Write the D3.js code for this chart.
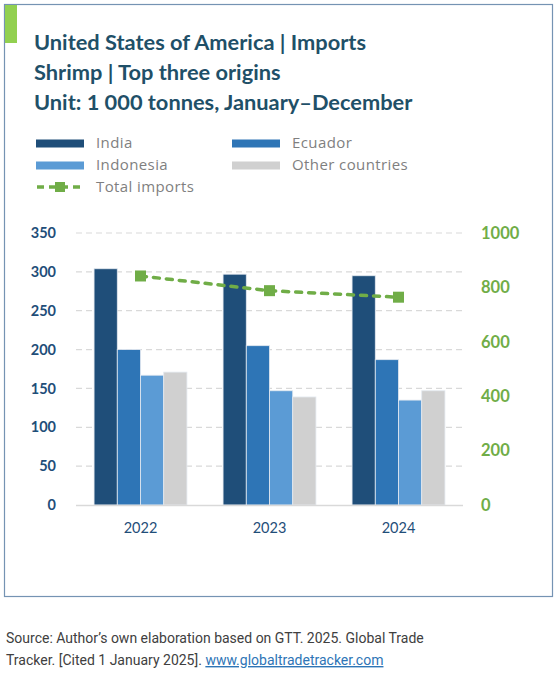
<!DOCTYPE html>
<html>
<head>
<meta charset="utf-8">
<script src="https://cdn.jsdelivr.net/npm/d3@7"></script>
<style>
  body { margin: 0; background: #fff; }
</style>
</head>
<body>
<svg id="chart" width="557" height="673" font-family="Lato, sans-serif"></svg>
<script>
// data
var years = ["2022", "2023", "2024"];
var seriesNames = ["India", "Ecuador", "Indonesia", "Other countries"];
var india = [304, 297, 295];
var ecuador = [200, 205, 187];
var indonesia = [167, 147, 135];
var others = [171, 139, 147];
var totalImports = [842, 788, 764];
var leftTicks = [0, 50, 100, 150, 200, 250, 300, 350];
var rightTicks = [0, 200, 400, 600, 800, 1000];

var colors = ["#1f4e79", "#2e75b6", "#5b9bd5", "#d0d0d0"];
var green = "#70ad47";
var titleColor = "#1f5068";

var svg = d3.select("#chart");

// frame + accent
svg.append("rect").attr("x", 4.5).attr("y", 4.5).attr("width", 548).attr("height", 592)
  .attr("fill", "none").attr("stroke", "#7593b3").attr("stroke-width", 1.2);
svg.append("rect").attr("x", 5).attr("y", 5).attr("width", 12).attr("height", 38).attr("fill", "#92d050");

// titles
var titles = ["United States of America | Imports", "Shrimp | Top three origins", "Unit: 1 000 tonnes, January\u2013December"];
svg.selectAll("text.title").data(titles).enter().append("text")
  .attr("class", "title")
  .attr("x", 34).attr("y", function(d, i) { return 50 + i * 30; })
  .attr("fill", titleColor).attr("font-size", 21.8).attr("font-weight", "bold")
  .text(function(d) { return d; });

// legend
var legendItems = [
  {name: "India", color: colors[0], x: 36, y: 143},
  {name: "Ecuador", color: colors[1], x: 232, y: 143},
  {name: "Indonesia", color: colors[2], x: 36, y: 165},
  {name: "Other countries", color: colors[3], x: 232, y: 165}
];
var lg = svg.selectAll("g.leg").data(legendItems).enter().append("g").attr("class", "leg");
lg.append("rect").attr("x", function(d) { return d.x; }).attr("y", function(d) { return d.y - 3.5; })
  .attr("width", 48).attr("height", 8).attr("fill", function(d) { return d.color; });
lg.append("text").attr("x", function(d) { return d.x + 60; }).attr("y", function(d) { return d.y + 5; })
  .attr("fill", "#7f7f7f").attr("font-size", 15).attr("letter-spacing", 0.4)
  .attr("font-family", "'Open Sans', sans-serif")
  .text(function(d) { return d.name; });

svg.append("line").attr("x1", 37).attr("x2", 83).attr("y1", 187).attr("y2", 187)
  .attr("stroke", green).attr("stroke-width", 3.5).attr("stroke-dasharray", "7 5");
svg.append("rect").attr("x", 55).attr("y", 182).attr("width", 10).attr("height", 10).attr("fill", green);
svg.append("text").attr("x", 96).attr("y", 192).attr("fill", "#7f7f7f").attr("font-size", 15)
  .attr("letter-spacing", 0.4).attr("font-family", "'Open Sans', sans-serif").text("Total imports");

// scales
var x0 = d3.scaleBand().domain(years).range([76, 463]).paddingInner(0.28).paddingOuter(0.14);
var x1 = d3.scaleBand().domain(seriesNames).range([0, x0.bandwidth()]);
var yL = d3.scaleLinear().domain([0, 350]).range([505, 233]);
var yR = d3.scaleLinear().domain([0, 1000]).range([505, 233]);

// gridlines
svg.append("g").selectAll("line").data(leftTicks.slice(1)).enter().append("line")
  .attr("x1", 76).attr("x2", 463)
  .attr("y1", function(d) { return yL(d); }).attr("y2", function(d) { return yL(d); })
  .attr("stroke", "#d9d9d9").attr("stroke-width", 1.2).attr("stroke-dasharray", "6 4");

// bars
var table = years.map(function(y, i) {
  return {year: y, values: [india[i], ecuador[i], indonesia[i], others[i]]};
});
var groups = svg.append("g").selectAll("g").data(table).enter().append("g")
  .attr("transform", function(d) { return "translate(" + x0(d.year) + ",0)"; });
groups.selectAll("rect").data(function(d) {
    return d.values.map(function(v, j) { return {name: seriesNames[j], value: v, color: colors[j]}; });
  }).enter().append("rect")
  .attr("x", function(d) { return x1(d.name); })
  .attr("y", function(d) { return yL(d.value); })
  .attr("width", x1.bandwidth())
  .attr("height", function(d) { return yL(0) - yL(d.value); })
  .attr("fill", function(d) { return d.color; })
  .attr("stroke", "#e4e9f0").attr("stroke-width", 0.8);

// baseline
svg.append("line").attr("x1", 76).attr("x2", 463).attr("y1", 505.5).attr("y2", 505.5)
  .attr("stroke", "#d9d9d9").attr("stroke-width", 1.5);

// left axis
var axL = svg.append("g").attr("transform", "translate(56,0)")
  .call(d3.axisLeft(yL).tickValues(leftTicks).tickSize(0).tickPadding(0));
axL.select(".domain").remove();
axL.attr("font-family", "Lato, sans-serif");
axL.selectAll("text").attr("fill", "#1f4e79").attr("font-size", 14.5).attr("font-weight", "bold");

// right axis
var axR = svg.append("g").attr("transform", "translate(481,0)")
  .call(d3.axisRight(yR).tickValues(rightTicks).tickFormat(d3.format("d")).tickSize(0).tickPadding(0));
axR.select(".domain").remove();
axR.attr("font-family", "Lato, sans-serif");
axR.selectAll("text").attr("fill", green).attr("font-size", 16.5).attr("font-weight", "bold");

// x axis
var axX = svg.append("g").attr("transform", "translate(0,505)")
  .call(d3.axisBottom(x0).tickSize(0).tickPadding(18));
axX.select(".domain").remove();
axX.attr("font-family", "Lato, sans-serif");
axX.selectAll("text").attr("fill", "#1f4e79").attr("font-size", 14.5);

// total imports line
var cx = function(d, i) { return x0(years[i]) + x0.bandwidth() / 2; };
var line = d3.line().x(function(d, i) { return cx(d, i); }).y(function(d) { return yR(d); });
svg.append("path").datum(totalImports).attr("d", line)
  .attr("fill", "none").attr("stroke", green).attr("stroke-width", 3.5)
  .attr("stroke-linecap", "round").attr("stroke-dasharray", "6 7");
svg.append("g").selectAll("rect").data(totalImports).enter().append("rect")
  .attr("x", function(d, i) { return cx(d, i) - 5.5; })
  .attr("y", function(d) { return yR(d) - 5.5; })
  .attr("width", 11).attr("height", 11).attr("fill", green);

// source
var src = svg.append("text").attr("x", 6).attr("y", 643).attr("fill", "#404040")
  .attr("font-size", 14).attr("font-family", "Roboto, sans-serif")
  .text("Source: Author\u2019s own elaboration based on GTT. 2025. Global Trade");
var src2 = svg.append("text").attr("x", 6).attr("y", 665).attr("fill", "#404040")
  .attr("font-size", 14).attr("font-family", "Roboto, sans-serif");
src2.append("tspan").text("Tracker. [Cited 1 January 2025]. ");
src2.append("tspan").attr("fill", "#2e75b6").attr("text-decoration", "underline").text("www.globaltradetracker.com");
</script>
</body>
</html>
